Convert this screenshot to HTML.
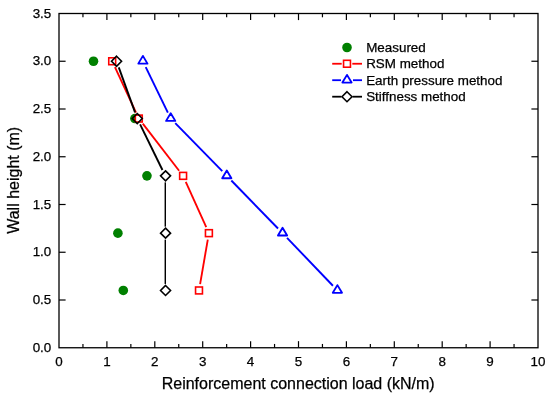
<!DOCTYPE html><html><head><meta charset="utf-8"><style>html,body{margin:0;padding:0;background:#fff}svg{display:block}text{font-family:"Liberation Sans",sans-serif;fill:#000;stroke:#000;stroke-width:0.25px}</style></head><body>
<svg width="550" height="397" viewBox="0 0 550 397">
<rect width="550" height="397" fill="#fff"/>
<circle cx="93.50" cy="61.25" r="4.8" fill="#008000"/>
<circle cx="134.90" cy="118.55" r="4.8" fill="#008000"/>
<circle cx="146.95" cy="175.85" r="4.8" fill="#008000"/>
<circle cx="117.90" cy="233.15" r="4.8" fill="#008000"/>
<circle cx="123.30" cy="290.45" r="4.8" fill="#008000"/>
<line x1="114.94" y1="67.15" x2="136.06" y2="112.65" stroke="#f00" stroke-width="1.85"/>
<line x1="142.78" y1="123.69" x2="179.12" y2="170.71" stroke="#f00" stroke-width="1.85"/>
<line x1="185.77" y1="181.78" x2="206.23" y2="227.22" stroke="#f00" stroke-width="1.85"/>
<line x1="207.79" y1="239.56" x2="200.11" y2="284.04" stroke="#f00" stroke-width="1.85"/>
<rect x="108.75" y="57.80" width="6.9" height="6.9" fill="#fff" stroke="#f00" stroke-width="1.6"/>
<rect x="135.35" y="115.10" width="6.9" height="6.9" fill="#fff" stroke="#f00" stroke-width="1.6"/>
<rect x="179.65" y="172.40" width="6.9" height="6.9" fill="#fff" stroke="#f00" stroke-width="1.6"/>
<rect x="205.45" y="229.70" width="6.9" height="6.9" fill="#fff" stroke="#f00" stroke-width="1.6"/>
<rect x="195.55" y="287.00" width="6.9" height="6.9" fill="#fff" stroke="#f00" stroke-width="1.6"/>
<line x1="145.74" y1="67.10" x2="167.86" y2="112.70" stroke="#00f" stroke-width="1.9"/>
<line x1="175.25" y1="123.19" x2="222.25" y2="171.21" stroke="#00f" stroke-width="1.9"/>
<line x1="231.33" y1="180.51" x2="278.02" y2="228.49" stroke="#00f" stroke-width="1.9"/>
<line x1="287.04" y1="237.85" x2="332.91" y2="285.75" stroke="#00f" stroke-width="1.9"/>
<path d="M142.90 55.90 L147.50 63.60 L138.30 63.60 Z" fill="#fff" stroke="#00f" stroke-width="1.85" stroke-linejoin="round"/>
<path d="M170.70 113.20 L175.30 120.90 L166.10 120.90 Z" fill="#fff" stroke="#00f" stroke-width="1.85" stroke-linejoin="round"/>
<path d="M226.80 170.50 L231.40 178.20 L222.20 178.20 Z" fill="#fff" stroke="#00f" stroke-width="1.85" stroke-linejoin="round"/>
<path d="M282.55 227.80 L287.15 235.50 L277.95 235.50 Z" fill="#fff" stroke="#00f" stroke-width="1.85" stroke-linejoin="round"/>
<path d="M337.40 285.10 L342.00 292.80 L332.80 292.80 Z" fill="#fff" stroke="#00f" stroke-width="1.85" stroke-linejoin="round"/>
<line x1="118.76" y1="67.36" x2="135.04" y2="112.44" stroke="#000" stroke-width="1.9"/>
<line x1="140.11" y1="124.39" x2="162.44" y2="170.01" stroke="#000" stroke-width="1.9"/>
<line x1="165.30" y1="182.35" x2="165.30" y2="226.65" stroke="#000" stroke-width="1.45"/>
<line x1="165.30" y1="239.65" x2="165.30" y2="283.95" stroke="#000" stroke-width="1.45"/>
<path d="M116.55 56.25 L121.55 61.25 L116.55 66.25 L111.55 61.25 Z" fill="none" stroke="#000" stroke-width="1.6"/>
<path d="M137.25 113.55 L142.25 118.55 L137.25 123.55 L132.25 118.55 Z" fill="none" stroke="#000" stroke-width="1.6"/>
<path d="M165.55 170.85 L170.55 175.85 L165.55 180.85 L160.55 175.85 Z" fill="none" stroke="#000" stroke-width="1.6"/>
<path d="M165.55 228.15 L170.55 233.15 L165.55 238.15 L160.55 233.15 Z" fill="none" stroke="#000" stroke-width="1.6"/>
<path d="M165.55 285.45 L170.55 290.45 L165.55 295.45 L160.55 290.45 Z" fill="none" stroke="#000" stroke-width="1.6"/>
<rect x="59.0" y="13.5" width="479.0" height="334.25" fill="none" stroke="#000" stroke-width="1.3"/>
<text x="59.00" y="365.7" font-size="13.4" text-anchor="middle">0</text>
<line x1="82.95" y1="347.75" x2="82.95" y2="343.95" stroke="#000" stroke-width="1.2"/>
<line x1="82.95" y1="13.5" x2="82.95" y2="17.3" stroke="#000" stroke-width="1.2"/>
<line x1="106.90" y1="347.75" x2="106.90" y2="341.15" stroke="#000" stroke-width="1.2"/>
<line x1="106.90" y1="13.5" x2="106.90" y2="20.1" stroke="#000" stroke-width="1.2"/>
<text x="106.90" y="365.7" font-size="13.4" text-anchor="middle">1</text>
<line x1="130.85" y1="347.75" x2="130.85" y2="343.95" stroke="#000" stroke-width="1.2"/>
<line x1="130.85" y1="13.5" x2="130.85" y2="17.3" stroke="#000" stroke-width="1.2"/>
<line x1="154.80" y1="347.75" x2="154.80" y2="341.15" stroke="#000" stroke-width="1.2"/>
<line x1="154.80" y1="13.5" x2="154.80" y2="20.1" stroke="#000" stroke-width="1.2"/>
<text x="154.80" y="365.7" font-size="13.4" text-anchor="middle">2</text>
<line x1="178.75" y1="347.75" x2="178.75" y2="343.95" stroke="#000" stroke-width="1.2"/>
<line x1="178.75" y1="13.5" x2="178.75" y2="17.3" stroke="#000" stroke-width="1.2"/>
<line x1="202.70" y1="347.75" x2="202.70" y2="341.15" stroke="#000" stroke-width="1.2"/>
<line x1="202.70" y1="13.5" x2="202.70" y2="20.1" stroke="#000" stroke-width="1.2"/>
<text x="202.70" y="365.7" font-size="13.4" text-anchor="middle">3</text>
<line x1="226.65" y1="347.75" x2="226.65" y2="343.95" stroke="#000" stroke-width="1.2"/>
<line x1="226.65" y1="13.5" x2="226.65" y2="17.3" stroke="#000" stroke-width="1.2"/>
<line x1="250.60" y1="347.75" x2="250.60" y2="341.15" stroke="#000" stroke-width="1.2"/>
<line x1="250.60" y1="13.5" x2="250.60" y2="20.1" stroke="#000" stroke-width="1.2"/>
<text x="250.60" y="365.7" font-size="13.4" text-anchor="middle">4</text>
<line x1="274.55" y1="347.75" x2="274.55" y2="343.95" stroke="#000" stroke-width="1.2"/>
<line x1="274.55" y1="13.5" x2="274.55" y2="17.3" stroke="#000" stroke-width="1.2"/>
<line x1="298.50" y1="347.75" x2="298.50" y2="341.15" stroke="#000" stroke-width="1.2"/>
<line x1="298.50" y1="13.5" x2="298.50" y2="20.1" stroke="#000" stroke-width="1.2"/>
<text x="298.50" y="365.7" font-size="13.4" text-anchor="middle">5</text>
<line x1="322.45" y1="347.75" x2="322.45" y2="343.95" stroke="#000" stroke-width="1.2"/>
<line x1="322.45" y1="13.5" x2="322.45" y2="17.3" stroke="#000" stroke-width="1.2"/>
<line x1="346.40" y1="347.75" x2="346.40" y2="341.15" stroke="#000" stroke-width="1.2"/>
<line x1="346.40" y1="13.5" x2="346.40" y2="20.1" stroke="#000" stroke-width="1.2"/>
<text x="346.40" y="365.7" font-size="13.4" text-anchor="middle">6</text>
<line x1="370.35" y1="347.75" x2="370.35" y2="343.95" stroke="#000" stroke-width="1.2"/>
<line x1="370.35" y1="13.5" x2="370.35" y2="17.3" stroke="#000" stroke-width="1.2"/>
<line x1="394.30" y1="347.75" x2="394.30" y2="341.15" stroke="#000" stroke-width="1.2"/>
<line x1="394.30" y1="13.5" x2="394.30" y2="20.1" stroke="#000" stroke-width="1.2"/>
<text x="394.30" y="365.7" font-size="13.4" text-anchor="middle">7</text>
<line x1="418.25" y1="347.75" x2="418.25" y2="343.95" stroke="#000" stroke-width="1.2"/>
<line x1="418.25" y1="13.5" x2="418.25" y2="17.3" stroke="#000" stroke-width="1.2"/>
<line x1="442.20" y1="347.75" x2="442.20" y2="341.15" stroke="#000" stroke-width="1.2"/>
<line x1="442.20" y1="13.5" x2="442.20" y2="20.1" stroke="#000" stroke-width="1.2"/>
<text x="442.20" y="365.7" font-size="13.4" text-anchor="middle">8</text>
<line x1="466.15" y1="347.75" x2="466.15" y2="343.95" stroke="#000" stroke-width="1.2"/>
<line x1="466.15" y1="13.5" x2="466.15" y2="17.3" stroke="#000" stroke-width="1.2"/>
<line x1="490.10" y1="347.75" x2="490.10" y2="341.15" stroke="#000" stroke-width="1.2"/>
<line x1="490.10" y1="13.5" x2="490.10" y2="20.1" stroke="#000" stroke-width="1.2"/>
<text x="490.10" y="365.7" font-size="13.4" text-anchor="middle">9</text>
<line x1="514.05" y1="347.75" x2="514.05" y2="343.95" stroke="#000" stroke-width="1.2"/>
<line x1="514.05" y1="13.5" x2="514.05" y2="17.3" stroke="#000" stroke-width="1.2"/>
<text x="538.00" y="365.7" font-size="13.4" text-anchor="middle">10</text>
<text x="51.3" y="351.90" font-size="13.4" text-anchor="end">0.0</text>
<line x1="59.0" y1="300.00" x2="65.6" y2="300.00" stroke="#000" stroke-width="1.2"/>
<line x1="538.0" y1="300.00" x2="531.4" y2="300.00" stroke="#000" stroke-width="1.2"/>
<text x="51.3" y="304.15" font-size="13.4" text-anchor="end">0.5</text>
<line x1="59.0" y1="252.25" x2="65.6" y2="252.25" stroke="#000" stroke-width="1.2"/>
<line x1="538.0" y1="252.25" x2="531.4" y2="252.25" stroke="#000" stroke-width="1.2"/>
<text x="51.3" y="256.40" font-size="13.4" text-anchor="end">1.0</text>
<line x1="59.0" y1="204.50" x2="65.6" y2="204.50" stroke="#000" stroke-width="1.2"/>
<line x1="538.0" y1="204.50" x2="531.4" y2="204.50" stroke="#000" stroke-width="1.2"/>
<text x="51.3" y="208.65" font-size="13.4" text-anchor="end">1.5</text>
<line x1="59.0" y1="156.75" x2="65.6" y2="156.75" stroke="#000" stroke-width="1.2"/>
<line x1="538.0" y1="156.75" x2="531.4" y2="156.75" stroke="#000" stroke-width="1.2"/>
<text x="51.3" y="160.90" font-size="13.4" text-anchor="end">2.0</text>
<line x1="59.0" y1="109.00" x2="65.6" y2="109.00" stroke="#000" stroke-width="1.2"/>
<line x1="538.0" y1="109.00" x2="531.4" y2="109.00" stroke="#000" stroke-width="1.2"/>
<text x="51.3" y="113.15" font-size="13.4" text-anchor="end">2.5</text>
<line x1="59.0" y1="61.25" x2="65.6" y2="61.25" stroke="#000" stroke-width="1.2"/>
<line x1="538.0" y1="61.25" x2="531.4" y2="61.25" stroke="#000" stroke-width="1.2"/>
<text x="51.3" y="65.40" font-size="13.4" text-anchor="end">3.0</text>
<text x="51.3" y="17.65" font-size="13.4" text-anchor="end">3.5</text>
<text x="298.2" y="388.5" font-size="16" text-anchor="middle">Reinforcement connection load (kN/m)</text>
<text transform="translate(18.6,180.35) rotate(-90)" font-size="16" text-anchor="middle">Wall height (m)</text>
<circle cx="347.00" cy="47.50" r="4.8" fill="#008000"/>
<line x1="332.2" y1="63.75" x2="341.7" y2="63.75" stroke="#f00" stroke-width="1.8"/><line x1="352.3" y1="63.75" x2="362" y2="63.75" stroke="#f00" stroke-width="1.8"/>
<rect x="343.55" y="60.30" width="6.9" height="6.9" fill="#fff" stroke="#f00" stroke-width="1.6"/>
<line x1="332.2" y1="80.2" x2="341.0" y2="80.2" stroke="#00f" stroke-width="1.8"/><line x1="353.0" y1="80.2" x2="362" y2="80.2" stroke="#00f" stroke-width="1.8"/>
<path d="M347.00 74.85 L351.60 82.55 L342.40 82.55 Z" fill="#fff" stroke="#00f" stroke-width="1.85" stroke-linejoin="round"/>
<line x1="332.2" y1="96.7" x2="341.4" y2="96.7" stroke="#000" stroke-width="1.8"/><line x1="352.6" y1="96.7" x2="362" y2="96.7" stroke="#000" stroke-width="1.8"/>
<path d="M347.00 91.70 L352.00 96.70 L347.00 101.70 L342.00 96.70 Z" fill="none" stroke="#000" stroke-width="1.6"/>
<text x="366.2" y="51.90" font-size="13.4">Measured</text>
<text x="366.2" y="67.80" font-size="13.4">RSM method</text>
<text x="366.2" y="84.50" font-size="13.4">Earth pressure method</text>
<text x="366.2" y="101.40" font-size="13.4">Stiffness method</text>
</svg></body></html>
